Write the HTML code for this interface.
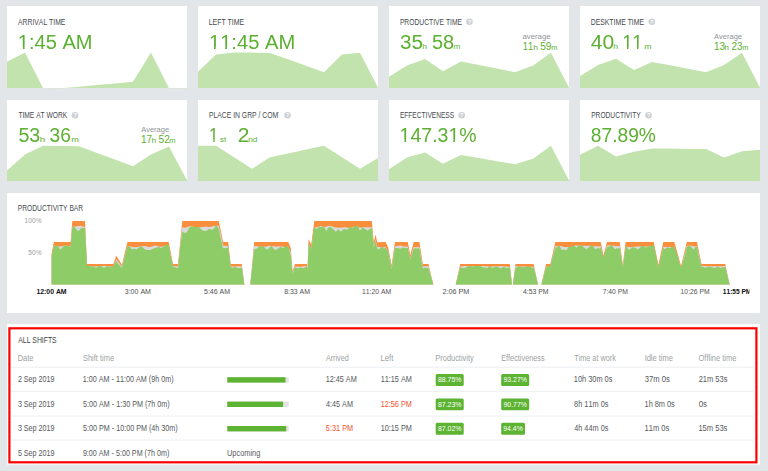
<!DOCTYPE html>
<html><head><meta charset="utf-8"><style>
html,body{margin:0;padding:0;width:768px;height:471px;overflow:hidden;background:#e3e6e9;}
svg{display:block;font-family:"Liberation Sans", sans-serif;font-kerning:none;}
</style></head><body>
<svg width="768" height="471" viewBox="0 0 768 471">
<rect x="0.00" y="0.00" width="768.00" height="471.00" fill="#e3e6e9"/>
<rect x="7.00" y="6.00" width="180.00" height="82.00" fill="#fff"/>
<rect x="7.00" y="100.00" width="180.00" height="81.00" fill="#fff"/>
<rect x="198.00" y="6.00" width="180.00" height="82.00" fill="#fff"/>
<rect x="198.00" y="100.00" width="180.00" height="81.00" fill="#fff"/>
<rect x="389.00" y="6.00" width="180.00" height="82.00" fill="#fff"/>
<rect x="389.00" y="100.00" width="180.00" height="81.00" fill="#fff"/>
<rect x="580.00" y="6.00" width="180.00" height="82.00" fill="#fff"/>
<rect x="580.00" y="100.00" width="180.00" height="81.00" fill="#fff"/>
<rect x="7.00" y="193.00" width="753.00" height="120.00" fill="#fff"/>
<rect x="7.00" y="324.00" width="753.00" height="140.50" fill="#fff"/>
<polygon points="7.00,88.00 7.00,61.80 25.00,52.40 43.00,88.00 61.00,88.30 79.00,86.70 97.00,85.10 115.00,83.40 133.00,81.80 151.00,52.40 169.00,88.30 187.00,88.30 187.00,88.00" fill="#c2e3ad"/>
<polygon points="198.00,88.00 198.00,71.70 216.00,54.40 234.00,52.40 252.00,52.60 270.00,52.90 288.00,59.30 306.00,65.70 324.00,72.20 342.00,54.40 360.00,52.70 378.00,87.80 378.00,88.00" fill="#c2e3ad"/>
<polygon points="389.00,88.00 389.00,76.70 407.00,65.60 425.00,58.90 443.00,71.30 461.00,61.40 479.00,65.00 497.00,68.60 515.00,72.20 533.00,65.60 551.00,52.70 569.00,87.80 569.00,88.00" fill="#c2e3ad"/>
<polygon points="580.00,88.00 580.00,76.00 598.00,65.00 616.00,58.80 634.00,70.10 652.00,61.90 670.00,65.30 688.00,68.80 706.00,72.20 724.00,65.00 742.00,52.80 760.00,87.70 760.00,88.00" fill="#c2e3ad"/>
<polygon points="7.00,181.00 7.00,170.50 25.00,154.40 43.00,145.70 61.00,145.90 79.00,146.20 97.00,152.90 115.00,159.60 133.00,166.30 151.00,154.40 169.00,146.50 187.00,180.40 187.00,181.00" fill="#c2e3ad"/>
<polygon points="198.00,181.00 198.00,145.70 216.00,145.70 234.00,157.20 252.00,168.70 270.00,157.30 288.00,153.40 306.00,149.60 324.00,145.70 342.00,157.20 360.00,168.70 378.00,158.10 378.00,181.00" fill="#c2e3ad"/>
<polygon points="389.00,181.00 389.00,169.20 407.00,157.60 425.00,152.40 443.00,163.80 461.00,154.90 479.00,158.00 497.00,161.20 515.00,164.30 533.00,158.80 551.00,145.70 569.00,180.40 569.00,181.00" fill="#c2e3ad"/>
<polygon points="580.00,181.00 580.00,154.80 598.00,145.80 616.00,156.40 634.00,151.70 652.00,148.40 670.00,148.60 688.00,148.90 706.00,149.10 724.00,157.60 742.00,151.20 760.00,149.70 760.00,181.00" fill="#c2e3ad"/>
<text x="18.00" y="24.90" font-size="8.3" fill="#474a4f" textLength="47.42" lengthAdjust="spacingAndGlyphs">ARRIVAL TIME</text>
<text x="208.68" y="24.80" font-size="8.3" fill="#474a4f" textLength="35.47" lengthAdjust="spacingAndGlyphs">LEFT TIME</text>
<text x="399.89" y="24.80" font-size="8.3" fill="#474a4f" textLength="62.14" lengthAdjust="spacingAndGlyphs">PRODUCTIVE TIME</text>
<circle cx="469.5" cy="21.7" r="3.3" fill="#cdd1d5"/>
<text x="469.5" y="23.7" font-size="5.3" font-weight="bold" fill="#fff" text-anchor="middle">?</text>
<text x="590.68" y="24.80" font-size="8.3" fill="#474a4f" textLength="53.37" lengthAdjust="spacingAndGlyphs">DESKTIME TIME</text>
<circle cx="651.8" cy="21.7" r="3.3" fill="#cdd1d5"/>
<text x="651.8" y="23.7" font-size="5.3" font-weight="bold" fill="#fff" text-anchor="middle">?</text>
<text x="18.40" y="117.90" font-size="8.3" fill="#474a4f" textLength="48.89" lengthAdjust="spacingAndGlyphs">TIME AT WORK</text>
<circle cx="75" cy="115.2" r="3.3" fill="#cdd1d5"/>
<text x="75" y="117.2" font-size="5.3" font-weight="bold" fill="#fff" text-anchor="middle">?</text>
<text x="208.89" y="117.90" font-size="8.3" fill="#474a4f" textLength="69.34" lengthAdjust="spacingAndGlyphs">PLACE IN GRP / COM</text>
<circle cx="287.5" cy="115.2" r="3.3" fill="#cdd1d5"/>
<text x="287.5" y="117.2" font-size="5.3" font-weight="bold" fill="#fff" text-anchor="middle">?</text>
<text x="277.65" y="116.20" font-size="5" fill="#474a4f">'</text>
<text x="399.90" y="117.90" font-size="8.3" fill="#474a4f" textLength="54.29" lengthAdjust="spacingAndGlyphs">EFFECTIVENESS</text>
<circle cx="461.7" cy="115.2" r="3.3" fill="#cdd1d5"/>
<text x="461.7" y="117.2" font-size="5.3" font-weight="bold" fill="#fff" text-anchor="middle">?</text>
<text x="591.20" y="117.90" font-size="8.3" fill="#474a4f" textLength="49.43" lengthAdjust="spacingAndGlyphs">PRODUCTIVITY</text>
<circle cx="648.5" cy="115.2" r="3.3" fill="#cdd1d5"/>
<text x="648.5" y="117.2" font-size="5.3" font-weight="bold" fill="#fff" text-anchor="middle">?</text>
<text x="422.22" y="48.80" font-size="7.5" fill="#5cb031" textLength="4.81" lengthAdjust="spacingAndGlyphs">h</text>
<text x="453.55" y="48.80" font-size="7.5" fill="#5cb031" textLength="6.90" lengthAdjust="spacingAndGlyphs">m</text>
<text x="613.22" y="48.90" font-size="7.5" fill="#5cb031" textLength="4.81" lengthAdjust="spacingAndGlyphs">h</text>
<text x="644.22" y="48.90" font-size="7.5" fill="#5cb031" textLength="7.26" lengthAdjust="spacingAndGlyphs">m</text>
<text x="522.52" y="38.70" font-size="7.7" fill="#909398" textLength="28.00" lengthAdjust="spacingAndGlyphs">average</text>
<text x="522.83" y="49.50" font-size="10.3" fill="#5cb031" textLength="10.28" lengthAdjust="spacingAndGlyphs">11</text>
<text x="533.25" y="49.50" font-size="6.5" fill="#5cb031" textLength="4.73" lengthAdjust="spacingAndGlyphs">h</text>
<text x="540.20" y="49.50" font-size="10.3" fill="#5cb031" textLength="11.35" lengthAdjust="spacingAndGlyphs">59</text>
<text x="551.25" y="49.50" font-size="6.8" fill="#5cb031" textLength="6.20" lengthAdjust="spacingAndGlyphs">m</text>
<text x="714.10" y="38.70" font-size="7.7" fill="#909398" textLength="27.89" lengthAdjust="spacingAndGlyphs">Average</text>
<text x="714.08" y="49.50" font-size="10.3" fill="#5cb031" textLength="10.95" lengthAdjust="spacingAndGlyphs">13</text>
<text x="724.25" y="49.50" font-size="6.5" fill="#5cb031" textLength="4.73" lengthAdjust="spacingAndGlyphs">h</text>
<text x="731.52" y="49.50" font-size="10.3" fill="#5cb031" textLength="11.02" lengthAdjust="spacingAndGlyphs">23</text>
<text x="742.25" y="49.50" font-size="6.8" fill="#5cb031" textLength="6.20" lengthAdjust="spacingAndGlyphs">m</text>
<text x="39.74" y="141.60" font-size="7.5" fill="#5cb031" textLength="5.47" lengthAdjust="spacingAndGlyphs">h</text>
<text x="71.29" y="141.60" font-size="7.5" fill="#5cb031" textLength="7.62" lengthAdjust="spacingAndGlyphs">m</text>
<text x="141.20" y="132.10" font-size="7.7" fill="#909398" textLength="27.89" lengthAdjust="spacingAndGlyphs">Average</text>
<text x="141.07" y="142.50" font-size="10.3" fill="#5cb031" textLength="11.09" lengthAdjust="spacingAndGlyphs">17</text>
<text x="151.55" y="142.50" font-size="6.5" fill="#5cb031" textLength="4.73" lengthAdjust="spacingAndGlyphs">h</text>
<text x="158.61" y="142.50" font-size="10.3" fill="#5cb031" textLength="11.15" lengthAdjust="spacingAndGlyphs">52</text>
<text x="169.24" y="142.50" font-size="6.8" fill="#5cb031" textLength="6.32" lengthAdjust="spacingAndGlyphs">m</text>
<text x="219.94" y="141.80" font-size="7.5" fill="#5cb031" textLength="6.15" lengthAdjust="spacingAndGlyphs">st</text>
<text x="248.25" y="141.80" font-size="7.5" fill="#5cb031" textLength="9.16" lengthAdjust="spacingAndGlyphs">nd</text>
<text x="17.75" y="210.90" font-size="8.3" fill="#474a4f" textLength="65.38" lengthAdjust="spacingAndGlyphs">PRODUCTIVITY BAR</text>
<text x="24.56" y="223.00" font-size="7" fill="#9c9c9c" textLength="17.01" lengthAdjust="spacingAndGlyphs">100%</text>
<text x="28.24" y="254.80" font-size="7" fill="#9c9c9c" textLength="13.31" lengthAdjust="spacingAndGlyphs">50%</text>
<polygon points="51.60,284.40 51.60,253.30 53.90,242.00 70.60,242.00 72.30,221.00 85.00,221.00 87.00,264.00 113.40,264.00 116.20,255.60 121.90,264.70 127.50,242.00 168.70,242.00 173.00,264.00 178.00,264.00 182.30,221.00 218.80,221.00 223.10,242.00 228.20,242.00 230.70,264.00 241.80,264.00 244.30,284.40 250.30,284.40 254.20,242.00 288.20,242.00 290.80,248.00 292.50,271.20 295.00,264.00 307.00,264.00 307.50,270.30 308.60,238.90 311.20,244.80 314.30,221.00 371.80,221.00 373.80,242.30 375.50,234.60 377.20,242.30 385.70,242.00 388.20,247.70 391.60,265.20 395.00,242.00 407.80,242.00 410.30,255.00 413.70,242.00 419.40,242.00 422.80,264.00 428.50,264.00 433.30,284.40 455.70,284.40 460.20,264.00 509.80,264.00 512.00,284.40 512.90,284.40 515.40,264.00 533.60,264.00 538.00,284.40 541.40,284.40 546.00,264.00 550.30,264.00 555.40,242.00 600.70,242.00 603.50,255.60 607.00,242.00 619.70,242.00 622.80,264.70 625.60,242.00 653.70,242.00 658.40,264.70 663.30,242.00 674.30,242.00 681.10,266.00 686.80,242.00 697.00,242.00 701.50,264.00 725.30,264.00 729.60,284.40" fill="#f98f3c"/>
<polygon points="51.60,284.40 51.60,256.31 53.90,245.65 55.42,245.66 56.94,245.97 58.45,246.27 59.97,246.57 61.49,246.23 63.01,245.88 64.53,245.53 66.05,245.61 67.56,245.90 69.08,246.18 70.60,246.31 72.30,226.87 73.89,226.71 75.47,226.51 77.06,226.22 78.65,225.92 80.24,225.74 81.83,226.17 83.41,226.59 85.00,227.02 87.00,266.30 88.55,266.16 90.11,266.03 91.66,266.15 93.21,266.27 94.76,266.39 96.32,266.32 97.87,266.21 99.42,266.10 100.98,266.06 102.53,266.07 104.08,266.07 105.64,266.12 107.19,266.22 108.74,266.32 110.29,266.42 111.85,266.54 113.40,266.66 116.20,258.98 118.10,261.41 120.00,263.93 121.90,266.80 123.77,259.78 125.63,252.85 127.50,246.13 129.03,246.38 130.55,246.60 132.08,246.80 133.60,247.00 135.13,247.16 136.66,246.93 138.18,246.70 139.71,246.48 141.23,246.34 142.76,246.23 144.29,246.12 145.81,246.26 147.34,246.61 148.86,246.97 150.39,247.09 151.91,246.52 153.44,245.95 154.97,245.38 156.49,245.85 158.02,246.35 159.54,246.85 161.07,246.75 162.60,246.40 164.12,246.06 165.65,245.82 167.17,245.73 168.70,245.64 170.85,255.84 173.00,266.11 174.67,266.11 176.33,266.15 178.00,266.21 180.15,246.39 182.30,227.13 183.82,227.59 185.34,227.82 186.86,227.24 188.38,226.66 189.90,226.08 191.43,226.38 192.95,226.75 194.47,227.12 195.99,227.28 197.51,227.33 199.03,227.38 200.55,227.33 202.07,227.09 203.59,226.84 205.11,226.63 206.63,226.79 208.15,226.95 209.68,227.11 211.20,226.80 212.72,226.35 214.24,225.91 215.76,225.69 217.28,225.68 218.80,225.68 220.95,235.61 223.10,245.58 224.80,245.68 226.50,245.97 228.20,246.30 230.70,266.61 232.29,266.54 233.87,266.46 235.46,266.39 237.04,266.36 238.63,266.32 240.21,266.31 241.80,266.39 244.30,284.40 250.30,284.40 254.20,245.93 255.75,246.02 257.29,246.33 258.84,246.64 260.38,246.85 261.93,246.79 263.47,246.74 265.02,246.67 266.56,246.39 268.11,246.11 269.65,245.83 271.20,245.92 272.75,246.13 274.29,246.33 275.84,246.41 277.38,246.38 278.93,246.35 280.47,246.39 282.02,246.61 283.56,246.83 285.11,247.02 286.65,246.93 288.20,246.84 290.80,252.06 292.50,273.09 295.00,266.27 296.50,266.47 298.00,266.67 299.50,266.87 301.00,266.77 302.50,266.52 304.00,266.27 305.50,266.13 307.00,266.22 307.50,272.10 308.60,243.07 311.20,248.85 312.75,238.18 314.30,227.63 315.81,227.48 317.33,226.93 318.84,226.38 320.35,226.03 321.87,226.33 323.38,226.64 324.89,226.95 326.41,226.59 327.92,226.18 329.43,225.77 330.94,225.97 332.46,226.55 333.97,227.12 335.48,227.53 337.00,227.62 338.51,227.71 340.02,227.79 341.54,227.62 343.05,227.44 344.56,227.27 346.08,227.41 347.59,227.69 349.10,227.96 350.62,227.92 352.13,227.41 353.64,226.90 355.16,226.48 356.67,226.82 358.18,227.17 359.69,227.52 361.21,227.51 362.72,227.42 364.23,227.33 365.75,227.28 367.26,227.26 368.77,227.25 370.29,227.22 371.80,227.11 373.80,246.52 375.50,239.47 377.20,246.80 378.90,247.01 380.60,247.15 382.30,247.16 384.00,247.18 385.70,247.04 388.20,251.76 389.90,259.52 391.60,267.61 393.30,257.07 395.00,246.61 396.60,246.22 398.20,245.83 399.80,245.44 401.40,245.76 403.00,246.17 404.60,246.58 406.20,246.66 407.80,246.62 410.30,258.44 412.00,252.73 413.70,247.09 415.60,247.23 417.50,247.10 419.40,246.96 421.10,256.68 422.80,266.49 424.70,266.30 426.60,266.30 428.50,266.33 433.30,284.40 455.70,284.40 460.20,266.61 461.70,266.42 463.21,266.24 464.71,266.05 466.21,266.12 467.72,266.24 469.22,266.37 470.72,266.40 472.22,266.31 473.73,266.22 475.23,266.15 476.73,266.14 478.24,266.12 479.74,266.11 481.24,266.09 482.75,266.07 484.25,266.06 485.75,266.15 487.25,266.36 488.76,266.56 490.26,266.70 491.76,266.51 493.27,266.33 494.77,266.14 496.27,266.14 497.78,266.18 499.28,266.21 500.78,266.25 502.28,266.29 503.79,266.33 505.29,266.39 506.79,266.53 508.30,266.67 509.80,266.81 512.00,284.40 512.90,284.40 515.40,266.10 516.92,266.20 518.43,266.31 519.95,266.42 521.47,266.45 522.98,266.48 524.50,266.51 526.02,266.59 527.53,266.68 529.05,266.78 530.57,266.84 532.08,266.82 533.60,266.80 538.00,284.40 541.40,284.40 546.00,266.71 548.15,266.47 550.30,266.27 552.00,259.52 553.70,252.81 555.40,246.10 556.91,246.06 558.42,246.03 559.93,246.00 561.44,246.30 562.95,246.62 564.46,246.93 565.97,247.08 567.48,247.12 568.99,247.17 570.50,247.03 572.01,246.55 573.52,246.06 575.03,245.58 576.54,245.59 578.05,245.61 579.56,245.62 581.07,245.65 582.58,245.69 584.09,245.72 585.60,245.74 587.11,245.74 588.62,245.74 590.13,245.76 591.64,245.91 593.15,246.06 594.66,246.21 596.17,246.30 597.68,246.36 599.19,246.42 600.70,246.36 603.50,258.57 605.25,252.10 607.00,245.59 608.59,245.43 610.17,245.31 611.76,245.58 613.35,245.84 614.94,246.10 616.53,246.08 618.11,246.05 619.70,246.02 621.25,256.58 622.80,267.10 625.60,246.50 627.16,246.75 628.72,246.99 630.28,247.16 631.84,246.99 633.41,246.83 634.97,246.66 636.53,246.55 638.09,246.44 639.65,246.33 641.21,246.36 642.77,246.42 644.33,246.49 645.89,246.53 647.46,246.57 649.02,246.61 650.58,246.49 652.14,246.10 653.70,245.71 655.27,252.56 656.83,259.99 658.40,267.24 660.03,260.68 661.67,253.82 663.30,246.92 664.87,246.85 666.44,246.89 668.01,246.95 669.59,247.01 671.16,246.99 672.73,246.95 674.30,246.90 676.00,252.16 677.70,257.41 679.40,262.73 681.10,268.22 683.00,260.84 684.90,253.46 686.80,245.86 688.50,245.66 690.20,245.52 691.90,245.89 693.60,246.25 695.30,246.48 697.00,246.09 698.50,252.57 700.00,259.17 701.50,266.05 703.09,266.05 704.67,266.06 706.26,266.09 707.85,266.13 709.43,266.18 711.02,266.18 712.61,266.17 714.19,266.15 715.78,266.17 717.37,266.23 718.95,266.28 720.54,266.29 722.13,266.20 723.71,266.11 725.30,266.04 729.60,284.40" fill="#d7d9db"/>
<polygon points="51.60,284.40 51.60,255.82 53.90,245.51 55.42,246.08 56.94,245.31 58.45,246.66 59.97,249.66 61.49,248.55 63.01,247.11 64.53,245.29 66.05,245.38 67.56,245.98 69.08,246.56 70.60,246.83 72.30,227.46 73.89,226.18 75.47,227.90 77.06,230.52 78.65,230.89 80.24,229.34 81.83,227.69 83.41,228.20 85.00,227.50 87.00,265.83 88.55,265.72 90.11,265.99 91.66,266.38 93.21,266.35 94.76,267.24 96.32,267.75 97.87,266.38 99.42,265.67 100.98,265.60 102.53,267.36 104.08,267.67 105.64,266.92 107.19,266.29 108.74,266.38 110.29,267.23 111.85,266.49 113.40,266.38 116.20,260.71 118.10,263.84 120.00,265.86 121.90,268.18 123.77,260.49 125.63,253.06 127.50,246.59 129.03,246.20 130.55,247.39 132.08,249.38 133.60,248.81 135.13,248.95 136.66,249.51 138.18,248.06 139.71,246.76 141.23,246.29 142.76,247.52 144.29,249.04 145.81,249.73 147.34,250.04 148.86,249.98 150.39,249.95 151.91,249.32 153.44,248.79 154.97,248.01 156.49,247.78 158.02,246.64 159.54,247.43 161.07,248.00 162.60,247.14 164.12,245.96 165.65,244.71 167.17,244.62 168.70,244.89 170.85,255.94 173.00,266.25 174.67,267.12 176.33,267.82 178.00,268.04 180.15,247.52 182.30,231.79 183.82,232.61 185.34,232.93 186.86,232.21 188.38,229.56 189.90,226.75 191.43,226.42 192.95,226.56 194.47,226.95 195.99,226.98 197.51,226.97 199.03,227.06 200.55,228.66 202.07,230.08 203.59,231.07 205.11,230.99 206.63,230.68 208.15,229.24 209.68,229.16 211.20,229.61 212.72,229.82 214.24,228.43 215.76,225.03 217.28,226.68 218.80,228.85 220.95,239.52 223.10,248.27 224.80,248.24 226.50,247.97 228.20,247.31 230.70,266.63 232.29,267.73 233.87,267.44 235.46,266.78 237.04,267.65 238.63,268.15 240.21,268.27 241.80,267.24 244.30,284.40 250.30,284.40 254.20,249.19 255.75,248.89 257.29,248.14 258.84,246.66 260.38,246.35 261.93,246.19 263.47,246.21 265.02,247.78 266.56,249.64 268.11,249.04 269.65,247.44 271.20,245.40 272.75,247.80 274.29,249.44 275.84,250.02 277.38,249.11 278.93,248.05 280.47,247.11 282.02,247.62 283.56,248.01 285.11,246.86 286.65,246.08 288.20,246.06 290.80,255.03 292.50,274.08 295.00,267.11 296.50,267.93 298.00,268.43 299.50,267.71 301.00,267.84 302.50,268.34 304.00,268.00 305.50,267.30 307.00,266.26 307.50,272.02 308.60,242.99 311.20,248.99 312.75,238.33 314.30,227.58 315.81,228.84 317.33,228.78 318.84,226.79 320.35,226.63 321.87,227.29 323.38,226.33 324.89,228.14 326.41,231.20 327.92,228.34 329.43,226.69 330.94,227.35 332.46,228.46 333.97,229.80 335.48,231.63 337.00,230.79 338.51,229.06 340.02,231.34 341.54,231.40 343.05,229.39 344.56,229.15 346.08,229.38 347.59,229.61 349.10,228.25 350.62,226.57 352.13,227.91 353.64,227.60 355.16,226.04 356.67,225.59 358.18,226.80 359.69,230.65 361.21,229.15 362.72,227.16 364.23,228.40 365.75,229.54 367.26,230.56 368.77,229.80 370.29,228.90 371.80,227.77 373.80,247.62 375.50,241.10 377.20,248.51 378.90,249.53 380.60,247.84 382.30,247.11 384.00,248.74 385.70,247.49 388.20,251.85 389.90,260.45 391.60,268.95 393.30,258.21 395.00,248.06 396.60,248.03 398.20,248.31 399.80,248.45 401.40,248.49 403.00,247.33 404.60,248.04 406.20,248.34 407.80,247.95 410.30,259.44 412.00,254.41 413.70,248.85 415.60,248.31 417.50,248.50 419.40,248.18 421.10,258.43 422.80,268.40 424.70,267.64 426.60,268.00 428.50,268.27 433.30,284.40 455.70,284.40 460.20,267.30 461.70,267.75 463.21,268.27 464.71,267.89 466.21,267.32 467.72,266.16 469.22,266.02 470.72,266.14 472.22,266.65 473.73,266.37 475.23,265.64 476.73,265.93 478.24,265.96 479.74,265.64 481.24,266.48 482.75,267.35 484.25,267.54 485.75,267.85 487.25,268.20 488.76,267.05 490.26,266.87 491.76,267.72 493.27,267.61 494.77,267.11 496.27,266.16 497.78,266.75 499.28,268.08 500.78,268.27 502.28,267.77 503.79,266.44 505.29,267.46 506.79,268.33 508.30,267.45 509.80,267.36 512.00,284.40 512.90,284.40 515.40,267.92 516.92,267.16 518.43,266.06 519.95,266.67 521.47,267.05 522.98,267.24 524.50,267.01 526.02,266.77 527.53,266.61 529.05,266.78 530.57,267.12 532.08,267.85 533.60,267.50 538.00,284.40 541.40,284.40 546.00,267.44 548.15,266.54 550.30,265.86 552.00,259.82 553.70,254.06 555.40,247.74 556.91,247.28 558.42,245.83 559.93,246.47 561.44,249.67 562.95,249.75 564.46,249.81 565.97,250.53 567.48,248.78 568.99,246.50 570.50,246.88 572.01,246.24 573.52,245.04 575.03,246.73 576.54,247.67 578.05,246.08 579.56,245.38 581.07,245.21 582.58,246.17 584.09,247.49 585.60,249.06 587.11,248.76 588.62,247.87 590.13,246.11 591.64,245.67 593.15,246.12 594.66,248.70 596.17,248.94 597.68,247.99 599.19,248.46 600.70,247.73 603.50,257.92 605.25,251.77 607.00,247.53 608.59,246.86 610.17,245.77 611.76,244.86 613.35,247.39 614.94,249.21 616.53,248.19 618.11,248.44 619.70,248.04 621.25,256.33 622.80,267.73 625.60,246.90 627.16,247.09 628.72,249.93 630.28,248.96 631.84,247.86 633.41,247.32 634.97,247.72 636.53,248.48 638.09,249.59 639.65,248.01 641.21,246.33 642.77,245.94 644.33,246.82 645.89,247.75 647.46,246.84 649.02,246.28 650.58,245.80 652.14,245.58 653.70,245.05 655.27,251.72 656.83,259.65 658.40,267.20 660.03,260.91 661.67,254.06 663.30,248.05 664.87,249.33 666.44,247.84 668.01,247.51 669.59,248.26 671.16,247.20 672.73,246.84 674.30,247.35 676.00,251.62 677.70,256.85 679.40,262.67 681.10,267.71 683.00,261.48 684.90,255.22 686.80,247.07 688.50,245.58 690.20,246.06 691.90,247.69 693.60,249.68 695.30,246.97 697.00,246.86 698.50,254.96 700.00,260.29 701.50,266.64 703.09,266.76 704.67,267.38 706.26,267.45 707.85,266.64 709.43,266.79 711.02,267.07 712.61,267.41 714.19,267.94 715.78,267.87 717.37,266.68 718.95,267.36 720.54,267.91 722.13,267.58 723.71,267.34 725.30,267.03 729.60,284.40" fill="#8ecc67"/>
<text x="36.41" y="293.70" font-size="7" fill="#111" font-weight="bold" textLength="30.17" lengthAdjust="spacingAndGlyphs">12:00 AM</text>
<text x="124.75" y="293.70" font-size="7" fill="#505050" textLength="26.23" lengthAdjust="spacingAndGlyphs">3:00 AM</text>
<text x="204.03" y="293.70" font-size="7" fill="#505050">5:46 AM</text>
<text x="284.15" y="293.70" font-size="7" fill="#505050" textLength="25.81" lengthAdjust="spacingAndGlyphs">8:33 AM</text>
<text x="362.01" y="293.70" font-size="7" fill="#505050" textLength="29.16" lengthAdjust="spacingAndGlyphs">11:20 AM</text>
<text x="442.41" y="293.70" font-size="7" fill="#505050" textLength="26.98" lengthAdjust="spacingAndGlyphs">2:06 PM</text>
<text x="522.88" y="293.70" font-size="7" fill="#505050" textLength="25.69" lengthAdjust="spacingAndGlyphs">4:53 PM</text>
<text x="602.64" y="293.70" font-size="7" fill="#505050" textLength="25.32" lengthAdjust="spacingAndGlyphs">7:40 PM</text>
<text x="680.62" y="293.70" font-size="7" fill="#505050" textLength="28.95" lengthAdjust="spacingAndGlyphs">10:26 PM</text>
<text x="722.83" y="293.70" font-size="7" fill="#111" font-weight="bold" textLength="28.53" lengthAdjust="spacingAndGlyphs">11:55 PM</text>
<rect x="749.50" y="285.00" width="10.50" height="12.00" fill="#fff"/>
<rect x="9.4" y="328.3" width="747" height="134" fill="none" stroke="#fc0000" stroke-width="2.2"/>
<text x="18.30" y="342.70" font-size="8.3" fill="#3c3f43" textLength="38.37" lengthAdjust="spacingAndGlyphs">ALL SHIFTS</text>
<text x="17.64" y="361.20" font-size="8.3" fill="#9c9fa3" textLength="15.72" lengthAdjust="spacingAndGlyphs">Date</text>
<text x="82.96" y="361.20" font-size="8.3" fill="#9c9fa3" textLength="31.14" lengthAdjust="spacingAndGlyphs">Shift time</text>
<text x="325.90" y="361.20" font-size="8.3" fill="#9c9fa3" textLength="22.87" lengthAdjust="spacingAndGlyphs">Arrived</text>
<text x="380.41" y="361.20" font-size="8.3" fill="#9c9fa3" textLength="12.97" lengthAdjust="spacingAndGlyphs">Left</text>
<text x="435.34" y="361.20" font-size="8.3" fill="#9c9fa3" textLength="38.37" lengthAdjust="spacingAndGlyphs">Productivity</text>
<text x="501.15" y="361.20" font-size="8.3" fill="#9c9fa3" textLength="43.57" lengthAdjust="spacingAndGlyphs">Effectiveness</text>
<text x="574.19" y="361.20" font-size="8.3" fill="#9c9fa3" textLength="41.61" lengthAdjust="spacingAndGlyphs">Time at work</text>
<text x="644.63" y="361.20" font-size="8.3" fill="#9c9fa3" textLength="28.20" lengthAdjust="spacingAndGlyphs">Idle time</text>
<text x="698.56" y="361.20" font-size="8.3" fill="#9c9fa3" textLength="37.85" lengthAdjust="spacingAndGlyphs">Offline time</text>
<rect x="11.00" y="366.70" width="743.00" height="1.00" fill="#eceef0"/>
<rect x="11.00" y="390.80" width="743.00" height="1.00" fill="#eceef0"/>
<rect x="11.00" y="415.60" width="743.00" height="1.00" fill="#eceef0"/>
<rect x="11.00" y="439.60" width="743.00" height="1.00" fill="#eceef0"/>
<text x="17.88" y="382.30" font-size="8.3" fill="#55585c" textLength="36.62" lengthAdjust="spacingAndGlyphs">2 Sep 2019</text>
<text x="82.76" y="382.30" font-size="8.3" fill="#55585c" textLength="90.84" lengthAdjust="spacingAndGlyphs">1:00 AM - 11:00 AM (9h 0m)</text>
<rect x="227.30" y="377.20" width="61.40" height="5.40" fill="#e3e3e3"/>
<rect x="227.30" y="377.20" width="58.20" height="5.40" fill="#5db332"/>
<text x="325.65" y="382.30" font-size="8.3" fill="#55585c" textLength="31.11" lengthAdjust="spacingAndGlyphs">12:45 AM</text>
<text x="380.65" y="382.30" font-size="8.3" fill="#55585c" textLength="31.22" lengthAdjust="spacingAndGlyphs">11:15 AM</text>
<rect x="435.7" y="374.0" width="28" height="11.9" rx="1.5" fill="#5db332"/>
<text x="437.97" y="382.30" font-size="7.5" fill="#fff" textLength="23.40" lengthAdjust="spacingAndGlyphs">88.75%</text>
<rect x="501.2" y="374.0" width="28" height="11.9" rx="1.5" fill="#5db332"/>
<text x="503.47" y="382.30" font-size="7.5" fill="#fff" textLength="23.40" lengthAdjust="spacingAndGlyphs">93.27%</text>
<text x="573.84" y="382.30" font-size="8.3" fill="#55585c" textLength="38.58" lengthAdjust="spacingAndGlyphs">10h 30m 0s</text>
<text x="644.75" y="382.30" font-size="8.3" fill="#55585c" textLength="25.06" lengthAdjust="spacingAndGlyphs">37m 0s</text>
<text x="698.66" y="382.30" font-size="8.3" fill="#55585c" textLength="28.74" lengthAdjust="spacingAndGlyphs">21m 53s</text>
<text x="17.88" y="406.70" font-size="8.3" fill="#55585c" textLength="36.62" lengthAdjust="spacingAndGlyphs">3 Sep 2019</text>
<text x="82.98" y="406.70" font-size="8.3" fill="#55585c" textLength="86.73" lengthAdjust="spacingAndGlyphs">5:00 AM - 1:30 PM (7h 0m)</text>
<rect x="227.30" y="401.60" width="61.40" height="5.40" fill="#e3e3e3"/>
<rect x="227.30" y="401.60" width="55.80" height="5.40" fill="#5db332"/>
<text x="325.98" y="406.70" font-size="8.3" fill="#55585c" textLength="26.99" lengthAdjust="spacingAndGlyphs">4:45 AM</text>
<text x="380.65" y="406.70" font-size="8.3" fill="#f2532f" textLength="31.22" lengthAdjust="spacingAndGlyphs">12:56 PM</text>
<rect x="435.7" y="398.4" width="28" height="11.9" rx="1.5" fill="#5db332"/>
<text x="437.97" y="406.70" font-size="7.5" fill="#fff" textLength="23.40" lengthAdjust="spacingAndGlyphs">87.23%</text>
<rect x="501.2" y="398.4" width="28" height="11.9" rx="1.5" fill="#5db332"/>
<text x="503.47" y="406.70" font-size="7.5" fill="#fff" textLength="23.40" lengthAdjust="spacingAndGlyphs">90.77%</text>
<text x="574.07" y="406.70" font-size="8.3" fill="#55585c" textLength="34.37" lengthAdjust="spacingAndGlyphs">8h 11m 0s</text>
<text x="644.55" y="406.70" font-size="8.3" fill="#55585c" textLength="30.18" lengthAdjust="spacingAndGlyphs">1h 8m 0s</text>
<text x="698.64" y="406.70" font-size="8.3" fill="#55585c" textLength="8.41" lengthAdjust="spacingAndGlyphs">0s</text>
<text x="17.88" y="431.10" font-size="8.3" fill="#55585c" textLength="36.62" lengthAdjust="spacingAndGlyphs">3 Sep 2019</text>
<text x="82.98" y="431.10" font-size="8.3" fill="#55585c" textLength="94.72" lengthAdjust="spacingAndGlyphs">5:00 PM - 10:00 PM (4h 30m)</text>
<rect x="227.30" y="426.00" width="61.40" height="5.40" fill="#e3e3e3"/>
<rect x="227.30" y="426.00" width="58.90" height="5.40" fill="#5db332"/>
<text x="325.87" y="431.10" font-size="8.3" fill="#f2532f" textLength="27.31" lengthAdjust="spacingAndGlyphs">5:31 PM</text>
<text x="380.65" y="431.10" font-size="8.3" fill="#55585c" textLength="31.22" lengthAdjust="spacingAndGlyphs">10:15 PM</text>
<rect x="435.7" y="422.8" width="28" height="11.9" rx="1.5" fill="#5db332"/>
<text x="437.97" y="431.10" font-size="7.5" fill="#fff" textLength="23.40" lengthAdjust="spacingAndGlyphs">87.02%</text>
<rect x="501.2" y="422.8" width="23.8" height="11.9" rx="1.5" fill="#5db332"/>
<text x="503.27" y="431.10" font-size="7.5" fill="#fff" textLength="19.57" lengthAdjust="spacingAndGlyphs">94.4%</text>
<text x="574.18" y="431.10" font-size="8.3" fill="#55585c" textLength="34.25" lengthAdjust="spacingAndGlyphs">4h 44m 0s</text>
<text x="644.53" y="431.10" font-size="8.3" fill="#55585c" textLength="24.78" lengthAdjust="spacingAndGlyphs">11m 0s</text>
<text x="698.43" y="431.10" font-size="8.3" fill="#55585c" textLength="28.97" lengthAdjust="spacingAndGlyphs">15m 53s</text>
<text x="17.88" y="455.60" font-size="8.3" fill="#55585c" textLength="36.62" lengthAdjust="spacingAndGlyphs">5 Sep 2019</text>
<text x="82.88" y="455.60" font-size="8.3" fill="#55585c" textLength="86.43" lengthAdjust="spacingAndGlyphs">9:00 AM - 5:00 PM (7h 0m)</text>
<text x="227.04" y="455.60" font-size="8.3" fill="#55585c" textLength="33.29" lengthAdjust="spacingAndGlyphs">Upcoming</text>
</svg>
<div style="position:absolute;left:0;top:0;will-change:transform">
<svg width="768" height="471" viewBox="0 0 768 471">
<text x="17.86" y="48.90" font-size="19.5" fill="#5cb031" textLength="74.71" lengthAdjust="spacingAndGlyphs">1:45 AM</text>
<text x="208.95" y="48.90" font-size="19.5" fill="#5cb031" textLength="86.30" lengthAdjust="spacingAndGlyphs">11:45 AM</text>
<text x="400.10" y="48.80" font-size="19.5" fill="#5cb031" textLength="23.07" lengthAdjust="spacingAndGlyphs">35</text>
<text x="431.90" y="48.80" font-size="19.5" fill="#5cb031" textLength="22.23" lengthAdjust="spacingAndGlyphs">58</text>
<text x="590.76" y="48.90" font-size="19.5" fill="#5cb031" textLength="23.42" lengthAdjust="spacingAndGlyphs">40</text>
<text x="622.41" y="48.90" font-size="19.5" fill="#5cb031" textLength="20.06" lengthAdjust="spacingAndGlyphs">11</text>
<text x="18.42" y="141.60" font-size="19.5" fill="#5cb031" textLength="21.91" lengthAdjust="spacingAndGlyphs">53</text>
<text x="49.56" y="141.60" font-size="19.5" fill="#5cb031" textLength="21.34" lengthAdjust="spacingAndGlyphs">36</text>
<text x="209.11" y="141.50" font-size="19.5" fill="#5cb031" textLength="9.32" lengthAdjust="spacingAndGlyphs">1</text>
<text x="237.72" y="141.50" font-size="19.5" fill="#5cb031" textLength="11.73" lengthAdjust="spacingAndGlyphs">2</text>
<text x="399.60" y="141.75" font-size="19.5" fill="#5cb031">147.31%</text>
<text x="590.84" y="142.30" font-size="19.5" fill="#5cb031" textLength="65.09" lengthAdjust="spacingAndGlyphs">87.89%</text>
<rect x="18.86" y="46.93" width="4.01" height="2.97" fill="#fff"/>
<rect x="24.58" y="46.93" width="3.91" height="2.97" fill="#fff"/>
<rect x="209.96" y="46.93" width="4.03" height="2.97" fill="#fff"/>
<rect x="215.70" y="46.93" width="3.93" height="2.97" fill="#fff"/>
<rect x="221.17" y="46.93" width="4.03" height="2.97" fill="#fff"/>
<rect x="226.92" y="46.93" width="3.93" height="2.97" fill="#fff"/>
<rect x="623.31" y="46.93" width="3.61" height="2.97" fill="#fff"/>
<rect x="628.45" y="46.93" width="3.52" height="2.97" fill="#fff"/>
<rect x="633.33" y="46.93" width="3.61" height="2.97" fill="#fff"/>
<rect x="638.47" y="46.93" width="3.52" height="2.97" fill="#fff"/>
<rect x="209.95" y="139.53" width="3.35" height="2.97" fill="#fff"/>
<rect x="214.73" y="139.53" width="3.27" height="2.97" fill="#fff"/>
<rect x="400.58" y="139.78" width="3.90" height="2.97" fill="#fff"/>
<rect x="406.14" y="139.78" width="3.81" height="2.97" fill="#fff"/>
<rect x="449.37" y="139.78" width="3.90" height="2.97" fill="#fff"/>
<rect x="454.93" y="139.78" width="3.81" height="2.97" fill="#fff"/>
</svg>
</div>
</body></html>
